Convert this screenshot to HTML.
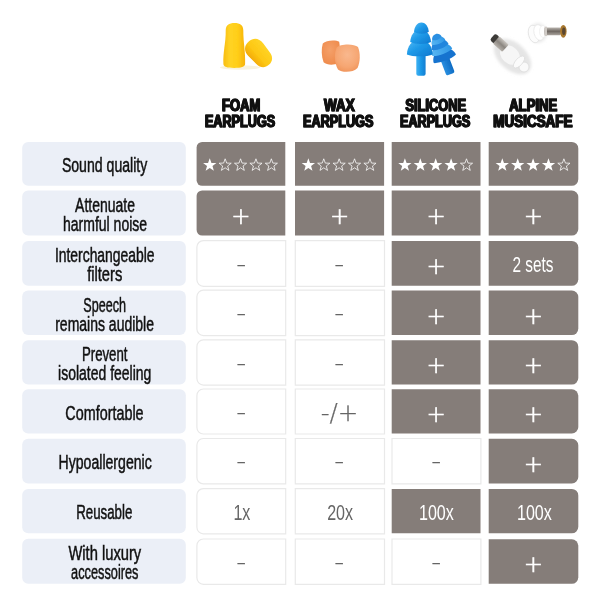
<!DOCTYPE html>
<html lang="en"><head><meta charset="utf-8"><title>Earplug comparison</title>
<style>
html,body{margin:0;padding:0;background:#fff;}
body{width:600px;height:600px;position:relative;overflow:hidden;font-family:"Liberation Sans",sans-serif;}
svg{position:absolute;left:0;top:0;}
.lab{position:absolute;display:flex;align-items:center;justify-content:center;text-align:center;color:#111;}
.lab span{display:block;font-size:20px;line-height:19px;white-space:nowrap;position:relative;top:1.8px;-webkit-text-stroke:.5px #111;}
.c{position:absolute;display:flex;align-items:center;justify-content:center;}
.d{color:#fff;}
.w{color:#666;}
.t{font-size:22.5px;transform:scaleX(.715);white-space:nowrap;display:block;position:relative;top:2px;left:.5px}
.x{font-family:"DejaVu Sans","Liberation Sans",sans-serif;font-weight:200;font-size:24.5px;display:block;position:relative;top:1.5px;white-space:nowrap;-webkit-text-stroke:.25px currentColor;}
.p{font-family:"DejaVu Sans","Liberation Sans",sans-serif;font-weight:200;font-size:23px;display:block;position:relative;top:2.8px;left:0px;-webkit-text-stroke:.6px #fff;}
.m{font-family:"DejaVu Sans","Liberation Sans",sans-serif;font-weight:200;font-size:24px;display:block;position:relative;top:.3px;transform:scaleX(1.15);-webkit-text-stroke:.25px currentColor;}
.h{position:absolute;top:97.6px;text-align:center;font-weight:bold;font-size:15.4px;line-height:16.5px;color:#111;-webkit-text-stroke:1.3px #111;text-shadow:.7px 0 0 #111,-.7px 0 0 #111;}
.h span{display:block;white-space:nowrap;}
</style></head><body>
<svg width="600" height="600" viewBox="0 0 600 600">
<path d="M28.20,141.90 L179.80,141.90 A6.00,6.00 0 0 1 185.80,147.90 L185.80,179.80 A6.00,6.00 0 0 1 179.80,185.80 L28.20,185.80 A6.00,6.00 0 0 1 22.20,179.80 L22.20,147.90 A6.00,6.00 0 0 1 28.20,141.90 Z" fill="#ebeff7"/>
<path d="M28.20,190.50 L179.80,190.50 A6.00,6.00 0 0 1 185.80,196.50 L185.80,229.60 A6.00,6.00 0 0 1 179.80,235.60 L28.20,235.60 A6.00,6.00 0 0 1 22.20,229.60 L22.20,196.50 A6.00,6.00 0 0 1 28.20,190.50 Z" fill="#ebeff7"/>
<path d="M28.20,240.90 L179.80,240.90 A6.00,6.00 0 0 1 185.80,246.90 L185.80,279.80 A6.00,6.00 0 0 1 179.80,285.80 L28.20,285.80 A6.00,6.00 0 0 1 22.20,279.80 L22.20,246.90 A6.00,6.00 0 0 1 28.20,240.90 Z" fill="#ebeff7"/>
<path d="M28.20,290.50 L179.80,290.50 A6.00,6.00 0 0 1 185.80,296.50 L185.80,329.10 A6.00,6.00 0 0 1 179.80,335.10 L28.20,335.10 A6.00,6.00 0 0 1 22.20,329.10 L22.20,296.50 A6.00,6.00 0 0 1 28.20,290.50 Z" fill="#ebeff7"/>
<path d="M28.20,340.20 L179.80,340.20 A6.00,6.00 0 0 1 185.80,346.20 L185.80,378.60 A6.00,6.00 0 0 1 179.80,384.60 L28.20,384.60 A6.00,6.00 0 0 1 22.20,378.60 L22.20,346.20 A6.00,6.00 0 0 1 28.20,340.20 Z" fill="#ebeff7"/>
<path d="M28.20,389.30 L179.80,389.30 A6.00,6.00 0 0 1 185.80,395.30 L185.80,427.50 A6.00,6.00 0 0 1 179.80,433.50 L28.20,433.50 A6.00,6.00 0 0 1 22.20,427.50 L22.20,395.30 A6.00,6.00 0 0 1 28.20,389.30 Z" fill="#ebeff7"/>
<path d="M28.20,438.80 L179.80,438.80 A6.00,6.00 0 0 1 185.80,444.80 L185.80,477.40 A6.00,6.00 0 0 1 179.80,483.40 L28.20,483.40 A6.00,6.00 0 0 1 22.20,477.40 L22.20,444.80 A6.00,6.00 0 0 1 28.20,438.80 Z" fill="#ebeff7"/>
<path d="M28.20,488.90 L179.80,488.90 A6.00,6.00 0 0 1 185.80,494.90 L185.80,527.30 A6.00,6.00 0 0 1 179.80,533.30 L28.20,533.30 A6.00,6.00 0 0 1 22.20,527.30 L22.20,494.90 A6.00,6.00 0 0 1 28.20,488.90 Z" fill="#ebeff7"/>
<path d="M28.20,538.70 L179.80,538.70 A6.00,6.00 0 0 1 185.80,544.70 L185.80,577.80 A6.00,6.00 0 0 1 179.80,583.80 L28.20,583.80 A6.00,6.00 0 0 1 22.20,577.80 L22.20,544.70 A6.00,6.00 0 0 1 28.20,538.70 Z" fill="#ebeff7"/>
<path d="M202.10,141.90 L285.30,141.90 L285.30,185.80 L202.10,185.80 A5.50,5.50 0 0 1 196.60,180.30 L196.60,147.40 A5.50,5.50 0 0 1 202.10,141.90 Z" fill="#857d79"/>
<polygon points="209.75,158.20 211.44,162.88 216.41,163.04 212.48,166.09 213.86,170.86 209.75,168.07 205.64,170.86 207.02,166.09 203.09,163.04 208.06,162.88" fill="#fff"/>
<polygon points="225.15,158.80 226.69,163.08 231.24,163.22 227.65,166.01 228.91,170.38 225.15,167.82 221.39,170.38 222.65,166.01 219.06,163.22 223.61,163.08" fill="none" stroke="#fff" stroke-opacity=".9" stroke-width="0.85"/>
<polygon points="240.55,158.80 242.09,163.08 246.64,163.22 243.05,166.01 244.31,170.38 240.55,167.82 236.79,170.38 238.05,166.01 234.46,163.22 239.01,163.08" fill="none" stroke="#fff" stroke-opacity=".9" stroke-width="0.85"/>
<polygon points="255.95,158.80 257.49,163.08 262.04,163.22 258.45,166.01 259.71,170.38 255.95,167.82 252.19,170.38 253.45,166.01 249.86,163.22 254.41,163.08" fill="none" stroke="#fff" stroke-opacity=".9" stroke-width="0.85"/>
<polygon points="271.35,158.80 272.89,163.08 277.44,163.22 273.85,166.01 275.11,170.38 271.35,167.82 267.59,170.38 268.85,166.01 265.26,163.22 269.81,163.08" fill="none" stroke="#fff" stroke-opacity=".9" stroke-width="0.85"/>
<path d="M295.00,141.90 L384.10,141.90 L384.10,185.80 L295.00,185.80 L295.00,141.90 Z" fill="#857d79"/>
<polygon points="308.35,158.20 310.04,162.88 315.01,163.04 311.08,166.09 312.46,170.86 308.35,168.07 304.24,170.86 305.62,166.09 301.69,163.04 306.66,162.88" fill="#fff"/>
<polygon points="323.75,158.80 325.29,163.08 329.84,163.22 326.25,166.01 327.51,170.38 323.75,167.82 319.99,170.38 321.25,166.01 317.66,163.22 322.21,163.08" fill="none" stroke="#fff" stroke-opacity=".9" stroke-width="0.85"/>
<polygon points="339.15,158.80 340.69,163.08 345.24,163.22 341.65,166.01 342.91,170.38 339.15,167.82 335.39,170.38 336.65,166.01 333.06,163.22 337.61,163.08" fill="none" stroke="#fff" stroke-opacity=".9" stroke-width="0.85"/>
<polygon points="354.55,158.80 356.09,163.08 360.64,163.22 357.05,166.01 358.31,170.38 354.55,167.82 350.79,170.38 352.05,166.01 348.46,163.22 353.01,163.08" fill="none" stroke="#fff" stroke-opacity=".9" stroke-width="0.85"/>
<polygon points="369.95,158.80 371.49,163.08 376.04,163.22 372.45,166.01 373.71,170.38 369.95,167.82 366.19,170.38 367.45,166.01 363.86,163.22 368.41,163.08" fill="none" stroke="#fff" stroke-opacity=".9" stroke-width="0.85"/>
<path d="M391.70,141.90 L480.50,141.90 L480.50,185.80 L391.70,185.80 L391.70,141.90 Z" fill="#857d79"/>
<polygon points="404.90,158.20 406.59,162.88 411.56,163.04 407.63,166.09 409.01,170.86 404.90,168.07 400.79,170.86 402.17,166.09 398.24,163.04 403.21,162.88" fill="#fff"/>
<polygon points="420.30,158.20 421.99,162.88 426.96,163.04 423.03,166.09 424.41,170.86 420.30,168.07 416.19,170.86 417.57,166.09 413.64,163.04 418.61,162.88" fill="#fff"/>
<polygon points="435.70,158.20 437.39,162.88 442.36,163.04 438.43,166.09 439.81,170.86 435.70,168.07 431.59,170.86 432.97,166.09 429.04,163.04 434.01,162.88" fill="#fff"/>
<polygon points="451.10,158.20 452.79,162.88 457.76,163.04 453.83,166.09 455.21,170.86 451.10,168.07 446.99,170.86 448.37,166.09 444.44,163.04 449.41,162.88" fill="#fff"/>
<polygon points="466.50,158.80 468.04,163.08 472.59,163.22 469.00,166.01 470.26,170.38 466.50,167.82 462.74,170.38 464.00,166.01 460.41,163.22 464.96,163.08" fill="none" stroke="#fff" stroke-opacity=".9" stroke-width="0.85"/>
<path d="M488.70,141.90 L571.80,141.90 A6.50,6.50 0 0 1 578.30,148.40 L578.30,179.30 A6.50,6.50 0 0 1 571.80,185.80 L488.70,185.80 L488.70,141.90 Z" fill="#857d79"/>
<polygon points="502.30,158.20 503.99,162.88 508.96,163.04 505.03,166.09 506.41,170.86 502.30,168.07 498.19,170.86 499.57,166.09 495.64,163.04 500.61,162.88" fill="#fff"/>
<polygon points="517.70,158.20 519.39,162.88 524.36,163.04 520.43,166.09 521.81,170.86 517.70,168.07 513.59,170.86 514.97,166.09 511.04,163.04 516.01,162.88" fill="#fff"/>
<polygon points="533.10,158.20 534.79,162.88 539.76,163.04 535.83,166.09 537.21,170.86 533.10,168.07 528.99,170.86 530.37,166.09 526.44,163.04 531.41,162.88" fill="#fff"/>
<polygon points="548.50,158.20 550.19,162.88 555.16,163.04 551.23,166.09 552.61,170.86 548.50,168.07 544.39,170.86 545.77,166.09 541.84,163.04 546.81,162.88" fill="#fff"/>
<polygon points="563.90,158.80 565.44,163.08 569.99,163.22 566.40,166.01 567.66,170.38 563.90,167.82 560.14,170.38 561.40,166.01 557.81,163.22 562.36,163.08" fill="none" stroke="#fff" stroke-opacity=".9" stroke-width="0.85"/>
<path d="M202.10,190.50 L285.30,190.50 L285.30,235.60 L202.10,235.60 A5.50,5.50 0 0 1 196.60,230.10 L196.60,196.00 A5.50,5.50 0 0 1 202.10,190.50 Z" fill="#857d79"/>
<path d="M295.00,190.50 L384.10,190.50 L384.10,235.60 L295.00,235.60 L295.00,190.50 Z" fill="#857d79"/>
<path d="M391.70,190.50 L480.50,190.50 L480.50,235.60 L391.70,235.60 L391.70,190.50 Z" fill="#857d79"/>
<path d="M488.70,190.50 L571.80,190.50 A6.50,6.50 0 0 1 578.30,197.00 L578.30,229.10 A6.50,6.50 0 0 1 571.80,235.60 L488.70,235.60 L488.70,190.50 Z" fill="#857d79"/>
<path d="M203.40,240.60 L285.70,240.60 L285.70,286.30 L203.40,286.30 A6.50,6.50 0 0 1 196.90,279.80 L196.90,247.10 A6.50,6.50 0 0 1 203.40,240.60 Z" fill="#fff" stroke="#e9e9e9" stroke-width="1.2"/>
<path d="M295.30,240.60 L384.50,240.60 L384.50,286.30 L295.30,286.30 L295.30,240.60 Z" fill="#fff" stroke="#e9e9e9" stroke-width="1.2"/>
<path d="M391.70,240.90 L480.50,240.90 L480.50,285.80 L391.70,285.80 L391.70,240.90 Z" fill="#857d79"/>
<path d="M488.70,240.90 L571.80,240.90 A6.50,6.50 0 0 1 578.30,247.40 L578.30,279.30 A6.50,6.50 0 0 1 571.80,285.80 L488.70,285.80 L488.70,240.90 Z" fill="#857d79"/>
<path d="M203.40,290.20 L285.70,290.20 L285.70,335.60 L203.40,335.60 A6.50,6.50 0 0 1 196.90,329.10 L196.90,296.70 A6.50,6.50 0 0 1 203.40,290.20 Z" fill="#fff" stroke="#e9e9e9" stroke-width="1.2"/>
<path d="M295.30,290.20 L384.50,290.20 L384.50,335.60 L295.30,335.60 L295.30,290.20 Z" fill="#fff" stroke="#e9e9e9" stroke-width="1.2"/>
<path d="M391.70,290.50 L480.50,290.50 L480.50,335.10 L391.70,335.10 L391.70,290.50 Z" fill="#857d79"/>
<path d="M488.70,290.50 L571.80,290.50 A6.50,6.50 0 0 1 578.30,297.00 L578.30,328.60 A6.50,6.50 0 0 1 571.80,335.10 L488.70,335.10 L488.70,290.50 Z" fill="#857d79"/>
<path d="M203.40,339.90 L285.70,339.90 L285.70,385.10 L203.40,385.10 A6.50,6.50 0 0 1 196.90,378.60 L196.90,346.40 A6.50,6.50 0 0 1 203.40,339.90 Z" fill="#fff" stroke="#e9e9e9" stroke-width="1.2"/>
<path d="M295.30,339.90 L384.50,339.90 L384.50,385.10 L295.30,385.10 L295.30,339.90 Z" fill="#fff" stroke="#e9e9e9" stroke-width="1.2"/>
<path d="M391.70,340.20 L480.50,340.20 L480.50,384.60 L391.70,384.60 L391.70,340.20 Z" fill="#857d79"/>
<path d="M488.70,340.20 L571.80,340.20 A6.50,6.50 0 0 1 578.30,346.70 L578.30,378.10 A6.50,6.50 0 0 1 571.80,384.60 L488.70,384.60 L488.70,340.20 Z" fill="#857d79"/>
<path d="M203.40,389.00 L285.70,389.00 L285.70,434.00 L203.40,434.00 A6.50,6.50 0 0 1 196.90,427.50 L196.90,395.50 A6.50,6.50 0 0 1 203.40,389.00 Z" fill="#fff" stroke="#e9e9e9" stroke-width="1.2"/>
<path d="M295.30,389.00 L384.50,389.00 L384.50,434.00 L295.30,434.00 L295.30,389.00 Z" fill="#fff" stroke="#e9e9e9" stroke-width="1.2"/>
<path d="M391.70,389.30 L480.50,389.30 L480.50,433.50 L391.70,433.50 L391.70,389.30 Z" fill="#857d79"/>
<path d="M488.70,389.30 L571.80,389.30 A6.50,6.50 0 0 1 578.30,395.80 L578.30,427.00 A6.50,6.50 0 0 1 571.80,433.50 L488.70,433.50 L488.70,389.30 Z" fill="#857d79"/>
<path d="M203.40,438.50 L285.70,438.50 L285.70,483.90 L203.40,483.90 A6.50,6.50 0 0 1 196.90,477.40 L196.90,445.00 A6.50,6.50 0 0 1 203.40,438.50 Z" fill="#fff" stroke="#e9e9e9" stroke-width="1.2"/>
<path d="M295.30,438.50 L384.50,438.50 L384.50,483.90 L295.30,483.90 L295.30,438.50 Z" fill="#fff" stroke="#e9e9e9" stroke-width="1.2"/>
<path d="M392.00,438.50 L480.90,438.50 L480.90,483.90 L392.00,483.90 L392.00,438.50 Z" fill="#fff" stroke="#e9e9e9" stroke-width="1.2"/>
<path d="M488.70,438.80 L571.80,438.80 A6.50,6.50 0 0 1 578.30,445.30 L578.30,476.90 A6.50,6.50 0 0 1 571.80,483.40 L488.70,483.40 L488.70,438.80 Z" fill="#857d79"/>
<path d="M203.40,488.60 L285.70,488.60 L285.70,533.80 L203.40,533.80 A6.50,6.50 0 0 1 196.90,527.30 L196.90,495.10 A6.50,6.50 0 0 1 203.40,488.60 Z" fill="#fff" stroke="#e9e9e9" stroke-width="1.2"/>
<path d="M295.30,488.60 L384.50,488.60 L384.50,533.80 L295.30,533.80 L295.30,488.60 Z" fill="#fff" stroke="#e9e9e9" stroke-width="1.2"/>
<path d="M391.70,488.90 L480.50,488.90 L480.50,533.30 L391.70,533.30 L391.70,488.90 Z" fill="#857d79"/>
<path d="M488.70,488.90 L571.80,488.90 A6.50,6.50 0 0 1 578.30,495.40 L578.30,526.80 A6.50,6.50 0 0 1 571.80,533.30 L488.70,533.30 L488.70,488.90 Z" fill="#857d79"/>
<path d="M203.40,539.00 L285.70,539.00 L285.70,584.30 L203.40,584.30 A6.50,6.50 0 0 1 196.90,577.80 L196.90,545.50 A6.50,6.50 0 0 1 203.40,539.00 Z" fill="#fff" stroke="#e9e9e9" stroke-width="1.2"/>
<path d="M295.30,539.00 L384.50,539.00 L384.50,584.30 L295.30,584.30 L295.30,539.00 Z" fill="#fff" stroke="#e9e9e9" stroke-width="1.2"/>
<path d="M392.00,539.00 L480.90,539.00 L480.90,584.30 L392.00,584.30 L392.00,539.00 Z" fill="#fff" stroke="#e9e9e9" stroke-width="1.2"/>
<path d="M488.70,539.30 L571.80,539.30 A6.50,6.50 0 0 1 578.30,545.80 L578.30,577.30 A6.50,6.50 0 0 1 571.80,583.80 L488.70,583.80 L488.70,539.30 Z" fill="#857d79"/>
<defs>
<linearGradient id="fy1" x1="0" y1="0" x2="1" y2="0"><stop offset="0" stop-color="#f8bd14"/><stop offset=".3" stop-color="#ffd324"/><stop offset=".65" stop-color="#ffce18"/><stop offset="1" stop-color="#f7b208"/></linearGradient>
<linearGradient id="fy2" x1="0" y1="0" x2="0" y2="1"><stop offset="0" stop-color="#ffd426"/><stop offset=".6" stop-color="#fdc713"/><stop offset="1" stop-color="#f3a904"/></linearGradient>
<radialGradient id="wx1" cx=".45" cy=".4" r=".7"><stop offset="0" stop-color="#f4a06a"/><stop offset="1" stop-color="#ee8848"/></radialGradient>
<radialGradient id="wx2" cx=".5" cy=".38" r=".68"><stop offset="0" stop-color="#f9b88e"/><stop offset=".65" stop-color="#f6a672"/><stop offset="1" stop-color="#ef9258"/></radialGradient>
<linearGradient id="bl1" x1="0" y1="0" x2="1" y2="0"><stop offset="0" stop-color="#3fb2f3"/><stop offset=".5" stop-color="#1b97e6"/><stop offset="1" stop-color="#0f7ed2"/></linearGradient>
<linearGradient id="bl2" x1="0" y1="0" x2="1" y2="0"><stop offset="0" stop-color="#2a8fe0"/><stop offset="1" stop-color="#0e6cc4"/></linearGradient>
<linearGradient id="bl3" x1="0" y1="0" x2="1" y2="1"><stop offset="0" stop-color="#52bbf6"/><stop offset=".45" stop-color="#1f9ae8"/><stop offset="1" stop-color="#0c78cf"/></linearGradient>
<linearGradient id="bl4" x1="0" y1="0" x2="1" y2="0"><stop offset="0" stop-color="#58b6f2"/><stop offset="1" stop-color="#2f97e6"/></linearGradient>
<linearGradient id="mt" x1="0" y1="0" x2="0" y2="1"><stop offset="0" stop-color="#c9c5c0"/><stop offset=".5" stop-color="#8b8680"/><stop offset="1" stop-color="#b5b0aa"/></linearGradient>
<linearGradient id="mt2" x1="0" y1="0" x2="0" y2="1"><stop offset="0" stop-color="#bdb8b2"/><stop offset=".5" stop-color="#6f6862"/><stop offset="1" stop-color="#aaa49e"/></linearGradient>
<filter id="sf" x="-20%" y="-20%" width="140%" height="140%"><feGaussianBlur stdDeviation="0.5"/></filter>
<filter id="sf2" x="-30%" y="-30%" width="160%" height="160%"><feGaussianBlur stdDeviation="1.6"/></filter>
</defs>
<!-- foam -->
<g filter="url(#sf)">
<ellipse cx="240" cy="67.5" rx="20" ry="2.2" fill="#f3e9c8" opacity=".6"/>
<path d="M223.4,64 C222.8,52 226,42 225.7,30.5 C225.7,25.2 229,23 234.5,23 C240,23 243.3,25.2 243.3,30.5 C243.2,42 245.6,52 245.1,64 C245,67 241,67.9 234.2,67.9 C227.2,67.9 223.5,67 223.4,64 Z" fill="url(#fy1)"/>
<path d="M-16.5,0 C-16.5,-7 -12,-10.3 -5,-10.2 L7,-9.2 C13,-8.8 16.5,-5.500 16.5,0 C16.5,5.500 13,8.800 7,9.200 L-5,10.200 C-12,10.300 -16.5,7 -16.5,0 Z" transform="translate(258.8,53.2) rotate(49) scale(.93,.96)" fill="url(#fy2)"/>
</g>
<!-- wax -->
<g filter="url(#sf)">
<path d="M322.800,43.500 C326,40 336,39.600 339.200,41.800 C340.400,48 340,58 338,63.200 C333.500,65.500 326.500,65 323.600,62.300 C321.300,56 321.200,49 322.800,43.500 Z" fill="url(#wx1)"/>
<path d="M336.500,47.800 C340,43.600 354,43.400 358,47 C360.500,53 360.300,62 357.500,68 C353,72.800 342,72.800 338,69.500 C334.300,63 334,54 336.500,47.800 Z" fill="url(#wx2)"/>
</g>
<!-- silicone -->
<g filter="url(#sf)">
<g transform="translate(443.2,54.6) rotate(-21) scale(.95)">
<rect x="-4.700" y="2" width="9.400" height="20" rx="2" fill="url(#bl2)"/>
<path d="M-12.5,4.8 C-12.2,-0.6 -7.8,-6.0 0.0,-6.0 C7.8,-6.0 12.2,-0.6 12.5,4.8 C7.5,7.4 -7.5,7.4 -12.5,4.8 Z" fill="#1673cf"/>
<path d="M-11.2,-2.7 C-10.9,-7.0 -6.9,-11.5 0.0,-11.5 C6.9,-11.5 10.9,-7.0 11.2,-2.7 C6.7,-0.1 -6.7,-0.1 -11.2,-2.7 Z" fill="url(#bl4)"/>
<path d="M-9.3,-8.7 C-9.0,-12.4 -5.8,-16.5 0.0,-16.5 C5.8,-16.5 9.0,-12.4 9.3,-8.7 C5.6,-6.1 -5.6,-6.1 -9.3,-8.7 Z" fill="#2186dd"/>
<path d="M-7.6,-14.0 C-7.3,-17.0 -4.7,-20.5 0.0,-20.5 C4.7,-20.5 7.3,-17.0 7.6,-14.0 C4.6,-11.4 -4.6,-11.4 -7.6,-14.0 Z" fill="url(#bl4)"/>
<path d="M-5.2,-18.8 C-4.9,-20.6 -3.2,-23.0 0.0,-23.0 C3.2,-23.0 4.9,-20.6 5.2,-18.8 C3.1,-16.2 -3.1,-16.2 -5.2,-18.8 Z" fill="#2a8fe2"/>
</g>
<rect x="416.300" y="53" width="9.300" height="22.700" rx="2" fill="url(#bl1)"/>
<path d="M406.9,54.4 C407.2,46.7 411.8,39.5 419.8,39.5 C427.8,39.5 432.4,46.7 432.7,54.4 C427.5,57.0 412.1,57.0 406.9,54.4 Z" fill="url(#bl3)"/>
<path d="M410.2,42.0 C410.5,35.7 414.2,29.5 420.6,29.5 C427.0,29.5 430.7,35.7 431.0,42.0 C426.8,44.6 414.4,44.6 410.2,42.0 Z" fill="url(#bl3)"/>
<path d="M414.0,31.8 C414.3,27.2 416.8,22.4 421.4,22.4 C426.0,22.4 428.5,27.2 428.8,31.8 C425.8,34.4 417.0,34.4 414.0,31.8 Z" fill="url(#bl3)"/>
</g>
<!-- alpine -->
<g filter="url(#sf)">
<g filter="url(#sf2)">
<ellipse cx="512.500" cy="56.500" rx="22" ry="13.500" transform="rotate(42 512.500 56.500)" fill="#dedede" opacity=".8"/>
<ellipse cx="538" cy="33" rx="9" ry="10" fill="#e6e6e6" opacity=".8"/>
</g>
<ellipse cx="534" cy="34" rx="5.500" ry="9" transform="rotate(-14 534 34)" fill="#fcfcfc" stroke="#e2e2e2" stroke-width=".8"/>
<ellipse cx="539" cy="32.500" rx="5" ry="8" transform="rotate(-14 539 32.500)" fill="#ffffff" stroke="#e6e6e6" stroke-width=".7"/>
<ellipse cx="543" cy="31.500" rx="3.500" ry="6" fill="#ffffff" stroke="#ebebeb" stroke-width=".6"/>
<ellipse cx="510" cy="55" rx="11" ry="8.500" transform="rotate(42 510 55)" fill="#f7f7f7" opacity=".9"/>
<g transform="translate(500.300,43.600) rotate(42)">
<rect x="-10.500" y="-4.300" width="6.500" height="8.600" rx="2.500" fill="#3c3a38"/>
<rect x="-5.500" y="-4.800" width="12.500" height="9.600" rx="1" fill="url(#mt)"/>
</g>
<g transform="translate(553,31.300)">
<rect x="-8.500" y="-3.900" width="16" height="7.800" rx="1" fill="url(#mt2)"/>
<rect x="-8.500" y="-4.600" width="2.500" height="9.200" fill="#cfcac5"/>
<ellipse cx="10.300" cy="0" rx="3.300" ry="6.400" fill="#a8782e"/>
<ellipse cx="10.800" cy="0" rx="1.700" ry="3.700" fill="#5a4630"/>
</g>
<ellipse cx="524" cy="67" rx="5" ry="5" fill="#fafafa" stroke="#dcdcdc" stroke-width=".8"/>
<ellipse cx="519" cy="62" rx="7.500" ry="3.500" transform="rotate(-48 519 62)" fill="#fbfbfb" stroke="#dddddd" stroke-width=".8"/>
</g>

</svg>
<div class="h" style="left:176.6px;width:128.7px"><span style="transform:translateX(-0.2px) scale(0.85,1.02)">FOAM</span><span style="transform:translateX(-1.3px) scale(0.822,1.02)">EARPLUGS</span></div>
<div class="h" style="left:275.0px;width:129.1px"><span style="transform:translateX(-0.2px) scale(0.87,1.02)">WAX</span><span style="transform:translateX(-1.3px) scale(0.822,1.02)">EARPLUGS</span></div>
<div class="h" style="left:371.7px;width:128.8px"><span style="transform:translateX(-0.6px) scale(0.835,1.02)">SILICONE</span><span style="transform:translateX(-1.3px) scale(0.822,1.02)">EARPLUGS</span></div>
<div class="h" style="left:468.7px;width:129.6px"><span style="transform:translateX(-0.6px) scale(0.852,1.02)">ALPINE</span><span style="transform:translateX(-0.9px) scale(0.875,1.02)">MUSICSAFE</span></div>
<div class="lab" style="left:22.8px;width:163.8px;top:141.9px;height:43.9px"><div><span style="transform:scaleX(0.705)">Sound quality</span></div></div>
<div class="lab" style="left:22.8px;width:163.8px;top:190.5px;height:45.1px"><div><span style="transform:scaleX(0.699)">Attenuate</span><span style="transform:scaleX(0.701)">harmful noise</span></div></div>
<div class="lab" style="left:22.8px;width:163.8px;top:240.9px;height:44.9px"><div><span style="transform:scaleX(0.695)">Interchangeable</span><span style="transform:scaleX(0.736)">filters</span></div></div>
<div class="lab" style="left:22.8px;width:163.8px;top:290.5px;height:44.6px"><div><span style="transform:scaleX(0.63)">Speech</span><span style="transform:scaleX(0.7)">remains audible</span></div></div>
<div class="lab" style="left:22.8px;width:163.8px;top:340.2px;height:44.4px"><div><span style="transform:scaleX(0.662)">Prevent</span><span style="transform:scaleX(0.699)">isolated feeling</span></div></div>
<div class="lab" style="left:22.8px;width:163.8px;top:389.3px;height:44.2px"><div><span style="transform:scaleX(0.718)">Comfortable</span></div></div>
<div class="lab" style="left:22.8px;width:163.8px;top:438.8px;height:44.6px"><div><span style="transform:scaleX(0.704)">Hypoallergenic</span></div></div>
<div class="lab" style="left:22.8px;width:163.8px;top:488.9px;height:44.4px"><div><span style="transform:scaleX(0.665)">Reusable</span></div></div>
<div class="lab" style="left:22.8px;width:163.8px;top:539.3px;height:44.5px"><div><span style="transform:scaleX(0.736)">With luxury</span><span style="transform:scaleX(0.638)">accessoires</span></div></div>
<div class="c d" style="left:196.6px;top:190.5px;width:88.7px;height:45.1px"><span class="p">+</span></div>
<div class="c d" style="left:295.0px;top:190.5px;width:89.1px;height:45.1px"><span class="p">+</span></div>
<div class="c d" style="left:391.7px;top:190.5px;width:88.8px;height:45.1px"><span class="p">+</span></div>
<div class="c d" style="left:488.7px;top:190.5px;width:89.6px;height:45.1px"><span class="p">+</span></div>
<div class="c w" style="left:196.6px;top:240.9px;width:88.7px;height:44.9px"><span class="m">-</span></div>
<div class="c w" style="left:295.0px;top:240.9px;width:89.1px;height:44.9px"><span class="m">-</span></div>
<div class="c d" style="left:391.7px;top:240.9px;width:88.8px;height:44.9px"><span class="p">+</span></div>
<div class="c d" style="left:488.7px;top:240.9px;width:89.6px;height:44.9px"><span class="t" style="transform:scaleX(.685);left:-.4px">2 sets</span></div>
<div class="c w" style="left:196.6px;top:290.5px;width:88.7px;height:44.6px"><span class="m">-</span></div>
<div class="c w" style="left:295.0px;top:290.5px;width:89.1px;height:44.6px"><span class="m">-</span></div>
<div class="c d" style="left:391.7px;top:290.5px;width:88.8px;height:44.6px"><span class="p">+</span></div>
<div class="c d" style="left:488.7px;top:290.5px;width:89.6px;height:44.6px"><span class="p">+</span></div>
<div class="c w" style="left:196.6px;top:340.2px;width:88.7px;height:44.4px"><span class="m">-</span></div>
<div class="c w" style="left:295.0px;top:340.2px;width:89.1px;height:44.4px"><span class="m">-</span></div>
<div class="c d" style="left:391.7px;top:340.2px;width:88.8px;height:44.4px"><span class="p">+</span></div>
<div class="c d" style="left:488.7px;top:340.2px;width:89.6px;height:44.4px"><span class="p">+</span></div>
<div class="c w" style="left:196.6px;top:389.3px;width:88.7px;height:44.2px"><span class="m">-</span></div>
<div class="c w" style="left:295.0px;top:389.3px;width:89.1px;height:44.2px"><span class="x">-/+</span></div>
<div class="c d" style="left:391.7px;top:389.3px;width:88.8px;height:44.2px"><span class="p">+</span></div>
<div class="c d" style="left:488.7px;top:389.3px;width:89.6px;height:44.2px"><span class="p">+</span></div>
<div class="c w" style="left:196.6px;top:438.8px;width:88.7px;height:44.6px"><span class="m">-</span></div>
<div class="c w" style="left:295.0px;top:438.8px;width:89.1px;height:44.6px"><span class="m">-</span></div>
<div class="c w" style="left:391.7px;top:438.8px;width:88.8px;height:44.6px"><span class="m">-</span></div>
<div class="c d" style="left:488.7px;top:438.8px;width:89.6px;height:44.6px"><span class="p">+</span></div>
<div class="c w" style="left:196.6px;top:488.9px;width:88.7px;height:44.4px"><span class="t">1x</span></div>
<div class="c w" style="left:295.0px;top:488.9px;width:89.1px;height:44.4px"><span class="t">20x</span></div>
<div class="c d" style="left:391.7px;top:488.9px;width:88.8px;height:44.4px"><span class="t">100x</span></div>
<div class="c d" style="left:488.7px;top:488.9px;width:89.6px;height:44.4px"><span class="t">100x</span></div>
<div class="c w" style="left:196.6px;top:539.3px;width:88.7px;height:44.5px"><span class="m">-</span></div>
<div class="c w" style="left:295.0px;top:539.3px;width:89.1px;height:44.5px"><span class="m">-</span></div>
<div class="c w" style="left:391.7px;top:539.3px;width:88.8px;height:44.5px"><span class="m">-</span></div>
<div class="c d" style="left:488.7px;top:539.3px;width:89.6px;height:44.5px"><span class="p">+</span></div>
</body></html>
